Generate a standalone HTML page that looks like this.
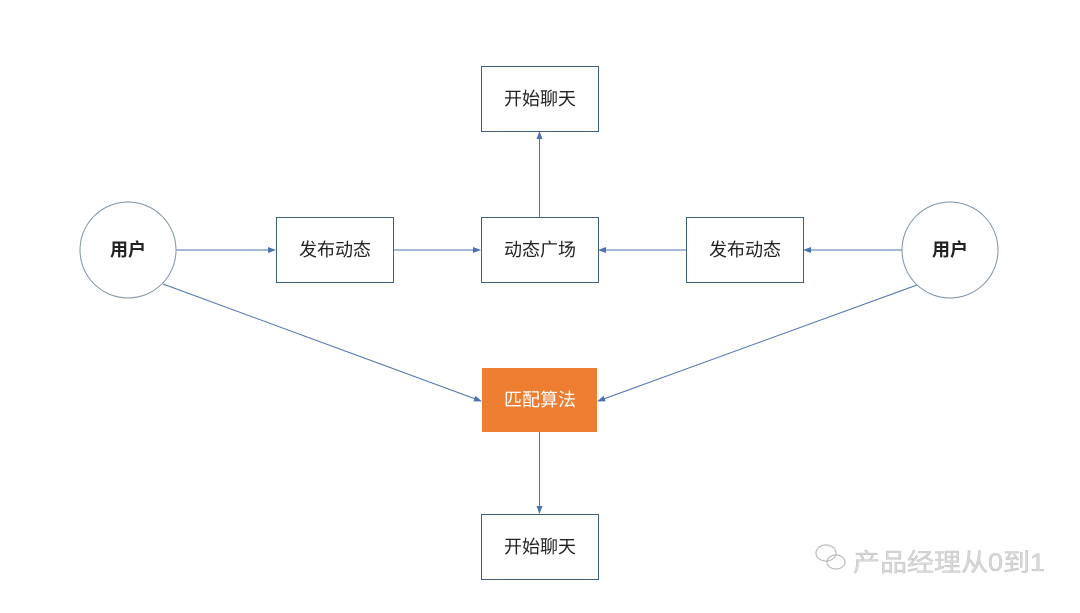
<!DOCTYPE html>
<html><head><meta charset="utf-8"><style>
body{margin:0;background:#fff;width:1080px;height:608px;overflow:hidden}
</style></head><body>
<svg width="1080" height="608" xmlns="http://www.w3.org/2000/svg" style="font-family:'Liberation Sans','Noto Sans CJK SC',sans-serif">
<defs><marker id="a" markerWidth="8" markerHeight="8" refX="7" refY="4" orient="auto" markerUnits="userSpaceOnUse"><path d="M0,1 L8,4 L0,7 Z" fill="#4a72b0"/></marker></defs>
<g stroke="#4a72b0" stroke-width="1" fill="none">
<line x1="176" y1="250" x2="275" y2="250" marker-end="url(#a)"/>
<line x1="393" y1="250" x2="480" y2="250" marker-end="url(#a)"/>
<line x1="686" y1="250" x2="599" y2="250" marker-end="url(#a)"/>
<line x1="902" y1="250" x2="804" y2="250" marker-end="url(#a)"/>
<line x1="539.5" y1="217" x2="539.5" y2="132" marker-end="url(#a)"/>
<line x1="163" y1="284" x2="481" y2="401" marker-end="url(#a)"/>
<line x1="917" y1="285" x2="598" y2="401" marker-end="url(#a)"/>
<line x1="539.5" y1="432" x2="539.5" y2="513" marker-end="url(#a)"/>
</g>
<g stroke="#3f5f7f" stroke-width="1" fill="#fff">
<circle cx="128" cy="250" r="48" stroke="#7d93a8"/>
<circle cx="950" cy="250" r="48" stroke="#7d93a8"/>
<rect x="276.5" y="217.5" width="117" height="65"/>
<rect x="481.5" y="217.5" width="117" height="65"/>
<rect x="686.5" y="217.5" width="117" height="65"/>
<rect x="481.5" y="66.5" width="117" height="65"/>
<rect x="481.5" y="514.5" width="117" height="65"/>
</g>
<rect x="482" y="368" width="115" height="64" fill="#ed7d31"/>
<g font-size="18" text-anchor="middle" fill="#222">
<text x="128" y="256" font-weight="bold">用户</text>
<text x="950" y="256" font-weight="bold">用户</text>
<text x="335" y="256">发布动态</text>
<text x="540" y="256">动态广场</text>
<text x="745" y="256">发布动态</text>
<text x="540" y="105">开始聊天</text>
<text x="540" y="553">开始聊天</text>
<text x="540" y="406" fill="#fff">匹配算法</text>
</g>
<g fill="none" stroke="#bbb" stroke-width="1.2">
<ellipse cx="826" cy="553" rx="10" ry="8"/>
<ellipse cx="836" cy="562" rx="9" ry="7"/>
</g>
<text x="853" y="571" font-size="25" font-weight="normal" fill="#d8d8d8" stroke="#b0b0b0" stroke-width="0.3" textLength="192" lengthAdjust="spacingAndGlyphs">产品经理从0到1</text>
</svg>
</body></html>
